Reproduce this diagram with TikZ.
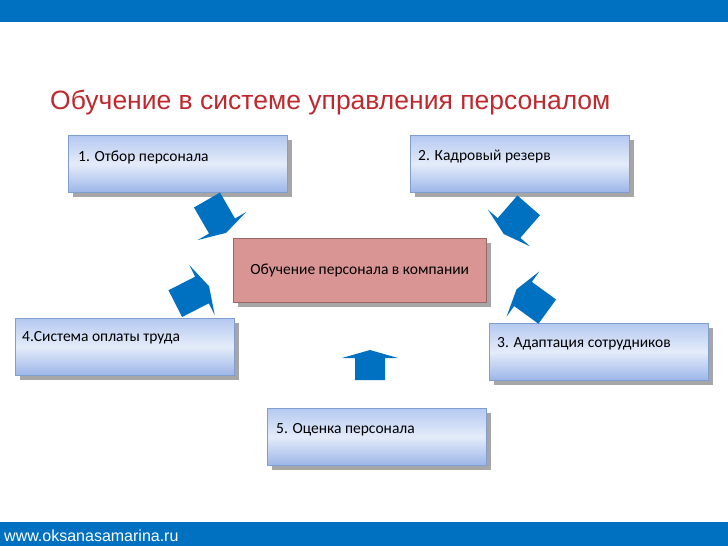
\documentclass[tikz,border=0pt]{standalone}
\usepackage{fontspec}
\setmainfont{Carlito}
\newfontfamily\webfont{Liberation Sans}
\definecolor{barblue}{HTML}{0070C0}
\definecolor{titlered}{HTML}{C0282D}
\definecolor{boxline}{HTML}{7F9FD0}
\definecolor{pinkfill}{HTML}{D99594}
\definecolor{boxtop}{HTML}{B4C8F0}
\definecolor{boxmid}{HTML}{E4ECFA}
\definecolor{boxbot}{HTML}{9DB6E8}
\tikzset{
  stepbox/.style={draw=boxline, minimum width=219pt, minimum height=57pt, anchor=north west,
    top color=boxtop, bottom color=boxbot, middle color=boxmid,
    drop shadow={shadow xshift=5pt, shadow yshift=-5pt, fill=gray!70, opacity=1},
    inner sep=0pt},
  boxtext/.style={anchor=west, font=\fontsize{15.5}{18}\selectfont, inner sep=0pt}
}
\usetikzlibrary{shadows}
\newcommand{\blockarrow}[3]{% position, angle, stem length
  \fill[barblue, shift={#1}, rotate=-#2] (-#3,-15) rectangle (0,15)
    (0,-28) -- (8,0) -- (0,28) -- cycle;}
\begin{document}
\begin{tikzpicture}[x=1pt,y=-1pt]
      \useasboundingbox (0,0) rectangle (728,546);
      \fill[barblue] (0,0) rectangle (728,22);
      \fill[barblue] (0,522) rectangle (728,546);
      \node[anchor=west, text=white, font=\webfont\fontsize{16}{18}\selectfont, inner sep=0pt] (web) at (4,536) {www.oksanasamarina.ru};
      \node[anchor=west, text=titlered, font=\webfont\fontsize{26.5}{30}\selectfont, inner sep=0pt] (title) at (50,103) {Обучение в системе управления персоналом};
      % boxes
      \node[stepbox] (b1) at (68,135) {};
      \node[stepbox] (b2) at (410,135) {};
      \node[stepbox] (b4) at (15,318) {};
      \node[stepbox] (b3) at (489,323) {};
      \node[stepbox] (b5) at (267,408) {};
      \node[stepbox, minimum width=253pt, minimum height=64pt, top color=pinkfill, bottom color=pinkfill, middle color=pinkfill, draw=gray!80!red] (c) at (233,238) {};
      \node[boxtext] (t1) at (78,157) {1. Отбор персонала};
      \node[boxtext] (t2) at (418,157) {2. Кадровый резерв};
      \node[boxtext] (t4) at (22,338) {4.Система оплаты труда};
      \node[boxtext] (t3) at (497,344) {3. Адаптация сотрудников};
      \node[boxtext] (t5) at (276,430) {5. Оценка персонала};
      \node[boxtext, anchor=center] (tc) at (c.center) {Обучение персонала в компании};
      % arrows
      \blockarrow{(222,226)}{60}{30}
      \blockarrow{(202,290)}{-27}{30}
      \blockarrow{(509,228)}{131}{30}
      \blockarrow{(523,294)}{-144}{30}
      \blockarrow{(370,358)}{-90}{22}
\end{tikzpicture}
\end{document}
